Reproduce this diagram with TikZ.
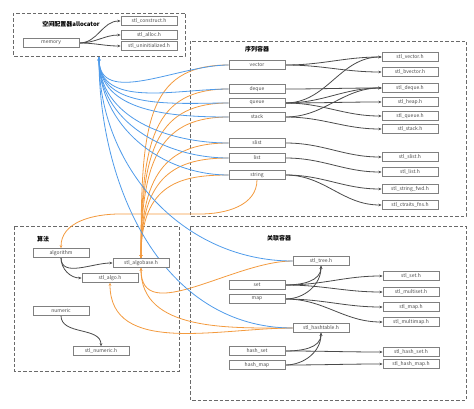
\documentclass[tikz,border=0pt]{standalone}
\usepackage{fontspec}
\setmainfont{Noto Sans CJK SC}
\usetikzlibrary{arrows.meta}
\pgfdeclarelayer{bg}\pgfdeclarelayer{edges}
\pgfsetlayers{bg,edges,main}
\definecolor{edgegray}{HTML}{4A4A4A}
\definecolor{boxgray}{HTML}{808080}
\definecolor{dashgray}{HTML}{6A6A6A}
\definecolor{lblue}{HTML}{4F9BEA}
\definecolor{lorange}{HTML}{F39A3E}
\tikzset{
 file/.style={draw=boxgray, line width=0.85pt, fill=white, minimum width=56pt, minimum height=8.5pt, inner sep=0pt, font=\fontsize{5}{5.5}\selectfont, text=black!70},
 group/.style={draw=dashgray, line width=0.95pt, dash pattern=on 3.5pt off 2pt},
 gtitle/.style={font=\fontsize{6}{7}\selectfont\bfseries, inner sep=0pt},
 gedge/.style={draw=edgegray, line width=0.8pt, -{Stealth[length=3.2pt,width=2.6pt]}},
 bedge/.style={draw=lblue, line width=0.8pt, -{Stealth[length=3.2pt,width=2.6pt]}},
 oedge/.style={draw=lorange, line width=0.8pt, -{Stealth[length=3.2pt,width=2.6pt]}},
}
\begin{document}
\begin{tikzpicture}[x=1pt,y=-1pt]
\useasboundingbox (0,0) rectangle (474,409);
% group boxes
\begin{pgfonlayer}{bg}
\draw[group] (13,13) rectangle (185,56);
\draw[group] (190,41) rectangle (466,216);
\draw[group] (14,226) rectangle (179,371);
\draw[group] (190,226) rectangle (466,400);
\end{pgfonlayer}
\node[gtitle] (t1) at (71,24) {空间配置器allocator};
\node[gtitle] (t2) at (257,49) {序列容器};
\node[gtitle] (t3) at (43,239) {算法};
\node[gtitle] (t4) at (279,238) {关联容器};
% allocator
\node[file] (memory) at (51,43) {memory};
\node[file] (construct) at (149,21) {stl\_construct.h};
\node[file] (salloc) at (149,35) {stl\_alloc.h};
\node[file] (uninit) at (149,46) {stl\_uninitialized.h};
\coordinate (allocin) at (99,57);
% sequence
\node[file] (vector) at (257,65) {vector};
\node[file] (deque) at (257,89) {deque};
\node[file] (queue) at (257,103) {queue};
\node[file] (stack) at (257,117) {stack};
\node[file] (slist) at (257,143) {slist};
\node[file] (list) at (257,158) {list};
\node[file] (string) at (257,175) {string};
\node[file] (hvector) at (410,57) {stl\_vector.h};
\node[file] (hbvector) at (410,72) {stl\_bvector.h};
\node[file] (hdeque) at (410,88) {stl\_deque.h};
\node[file] (hheap) at (410,102) {stl\_heap.h};
\node[file] (hqueue) at (410,116) {stl\_queue.h};
\node[file] (hstack) at (410,129) {stl\_stack.h};
\node[file] (hslist) at (410,157) {stl\_slist.h};
\node[file] (hlist) at (410,172) {stl\_list.h};
\node[file] (hsfwd) at (410,189) {stl\_string\_fwd.h};
\node[file] (hctraits) at (410,205) {stl\_ctraits\_fns.h};
% algorithms
\node[file] (algorithm) at (61,253) {algorithm};
\node[file] (algobase) at (141,263) {stl\_algobase.h};
\node[file] (algo) at (110,278) {stl\_algo.h};
\node[file] (numeric) at (61,311) {numeric};
\node[file] (hnumeric) at (101,351) {stl\_numeric.h};
% associative
\node[file] (tree) at (321,261) {stl\_tree.h};
\node[file] (set) at (257,285) {set};
\node[file] (map) at (257,299) {map};
\node[file] (hset) at (411,276) {stl\_set.h};
\node[file] (hmultiset) at (411,292) {stl\_multiset.h};
\node[file] (hmap) at (411,307) {stl\_map.h};
\node[file] (hmultimap) at (411,322) {stl\_multimap.h};
\node[file] (hashtable) at (321,328) {stl\_hashtable.h};
\node[file] (hashset) at (257,351) {hash\_set};
\node[file] (hashmap) at (257,365) {hash\_map};
\node[file] (hhashset) at (411,352) {stl\_hash\_set.h};
\node[file] (hhashmap) at (411,364) {stl\_hash\_map.h};
\coordinate (sa) at (200,214);
\coordinate (sb) at (120,214);
\begin{pgfonlayer}{edges}
% gray edges
\foreach \t in {construct,salloc,uninit} \draw[gedge] (memory.east) to[out=0,in=180] (\t.west);
\foreach \t in {hvector,hbvector} \draw[gedge] (vector.east) to[out=0,in=180] (\t.west);
\draw[gedge] (deque.east) to[out=0,in=180] (hdeque.west);
\foreach \t in {hvector,hdeque,hheap,hqueue} \draw[gedge] (queue.east) to[out=0,in=180] (\t.west);
\foreach \t in {hdeque,hstack} \draw[gedge] (stack.east) to[out=0,in=180] (\t.west);
\draw[gedge] (slist.east) to[out=0,in=180] (hslist.west);
\draw[gedge] (list.east) to[out=0,in=180] (hlist.west);
\foreach \t in {hsfwd,hctraits} \draw[gedge] (string.east) to[out=0,in=180] (\t.west);
\foreach \t in {algobase,algo} \draw[gedge] (algorithm.south) to[out=-90,in=180] (\t.west);
\draw[gedge] (numeric.south) to[out=-90,in=90] (hnumeric.north);
\foreach \s in {set,map} \draw[gedge] (\s.east) to[out=0,in=-90] (tree.south);
\foreach \t in {hset,hmultiset} \draw[gedge] (set.east) to[out=0,in=180] (\t.west);
\foreach \t in {hmap,hmultimap} \draw[gedge] (map.east) to[out=0,in=180] (\t.west);
\foreach \s in {hashset,hashmap} \draw[gedge] (\s.east) to[out=0,in=-90] (hashtable.south);
\draw[gedge] (hashset.east) to[out=0,in=180] (hhashset.west);
\draw[gedge] (hashmap.east) to[out=0,in=180] (hhashmap.west);
% orange edges
\foreach \s in {vector,deque,queue,stack,slist,list,string} \draw[oedge] (\s.west) to[out=180,in=90,in looseness=1.6] (algobase.north);
\draw[oedge] (string.south) to[out=-90,in=0] (sa) -- (sb) to[out=180,in=90] (algorithm.north);
\draw[oedge] (tree.west) to[out=180,in=-90] (algobase.south);
\draw[oedge] (hashtable.west) to[out=180,in=-90] (algobase.south);
\draw[oedge] (hashtable.west) to[out=180,in=-90] (algo.south);
% blue edges
\foreach \s in {vector,deque,queue,stack,slist,list,string,tree,hashtable} \draw[bedge] (\s.west) to[out=180,in=-90] (allocin);
\end{pgfonlayer}
\end{tikzpicture}
\end{document}
